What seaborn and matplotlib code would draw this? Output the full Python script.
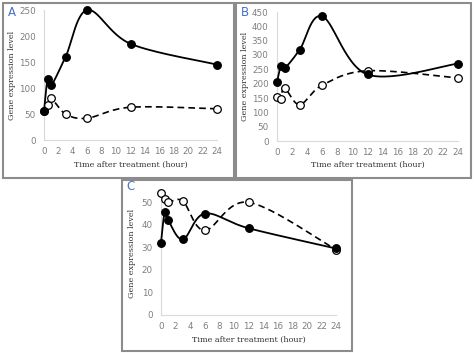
import numpy as np
import pandas as pd
import matplotlib
matplotlib.use("Agg")
import matplotlib.pyplot as plt
from matplotlib.patches import Rectangle
import seaborn as sns

# time points (hours after treatment)
hours = [0, 0.5, 1, 3, 6, 12, 24]

# panel A
a_filled = [55, 117, 105, 160, 250, 185, 145]
a_open = [55, 68, 80, 50, 42, 63, 60]
# panel B
b_filled = [205, 260, 253, 318, 435, 232, 270]
b_open = [152, 147, 185, 127, 195, 245, 220]
# panel C
c_filled = [32, 45.5, 42, 33.5, 45, 38.5, 29.5]
c_open = [54, 51.5, 50, 50.5, 37.5, 50, 29]


def smooth(x, y, xr, yr, n=30):
    # Excel-like smoothed line (cardinal spline in normalised coords)
    px = np.asarray(x, float) / xr
    py = np.asarray(y, float) / yr
    pts = np.column_stack([px, py])
    out = [pts[0]]
    for i in range(len(pts) - 1):
        p0 = pts[i - 1] if i > 0 else pts[i]
        p1, p2 = pts[i], pts[i + 1]
        p3 = pts[i + 2] if i + 2 < len(pts) else pts[i + 1]
        c1 = p1 + (p2 - p0) / 6
        c2 = p2 - (p3 - p1) / 6
        t = np.linspace(0, 1, n)[1:, None]
        seg = ((1 - t) ** 3) * p1 + 3 * ((1 - t) ** 2) * t * c1 + 3 * (1 - t) * t ** 2 * c2 + t ** 3 * p2
        out.extend(seg)
    out = np.array(out)
    return out[:, 0] * xr, out[:, 1] * yr


sns.set_style("white")
plt.rcParams["font.family"] = ["DejaVu Sans"]

fig = plt.figure(figsize=(4.74, 3.53), dpi=100)

# panel frames (pixels: left, top, right, bottom)
for l, t, r, b in [(3, 3, 234, 178), (236, 3, 471, 178), (122, 180, 352, 351)]:
    fig.patches.append(Rectangle((l / 474, 1 - b / 353), (r - l) / 474, (b - t) / 353,
                                 transform=fig.transFigure, fill=False,
                                 edgecolor="#8c8c8c", linewidth=1.5))

panels = [
    ("A", a_filled, a_open, 250, 50, [44, 10, 217, 140], (8, 12), (12, 165)),
    ("B", b_filled, b_open, 450, 50, [277, 12, 458, 141], (241, 12), (245, 165)),
    ("C", c_filled, c_open, 55, 10, [161, 191, 336, 315], (126, 187), (132, 340)),
]

for letter, filled, opened, ymax, ystep, (l, t, r, b), (lx, ly), (yl_x, xl_y) in panels:
    ax = fig.add_axes([l / 474, 1 - b / 353, (r - l) / 474, (b - t) / 353])
    ax.set_xlim(0, 24)
    ax.set_ylim(0, ymax)
    xs, ys = smooth(hours, opened, 24, ymax)
    ax.plot(xs, ys, color="black", lw=1.2, ls=(0, (4, 2.5)), clip_on=False, zorder=2)
    xs, ys = smooth(hours, filled, 24, ymax)
    ax.plot(xs, ys, color="black", lw=1.3, clip_on=False, zorder=3)
    df = pd.DataFrame({"hour": hours * 2, "value": opened + filled,
                       "series": ["open"] * 7 + ["filled"] * 7})
    sns.scatterplot(data=df[df.series == "open"], x="hour", y="value", ax=ax,
                    color="white", edgecolor="black", linewidth=0.9, s=30,
                    clip_on=False, zorder=4, legend=False)
    sns.scatterplot(data=df[df.series == "filled"], x="hour", y="value", ax=ax,
                    color="black", edgecolor="black", linewidth=0.9, s=30,
                    clip_on=False, zorder=5, legend=False)
    ax.set_xticks(range(0, 25, 2))
    ax.set_yticks(np.arange(0, ymax + 1, ystep))
    ax.tick_params(length=0, labelsize=6.3, labelcolor="#7f7f7f")
    ax.tick_params(axis="y", pad=6)
    ax.tick_params(axis="x", pad=5)
    for s in ["top", "right"]:
        ax.spines[s].set_visible(False)
    for s in ["left", "bottom"]:
        ax.spines[s].set_color("#d9d9d9")
        ax.spines[s].set_linewidth(0.8)
    ax.set_xlabel("Time after treatment (hour)", family="serif", fontsize=5.8,
                  color="#333333")
    ax.set_ylabel("Gene expression level", family="serif", fontsize=5.8,
                  color="#333333")
    ax.yaxis.set_label_coords((yl_x - l) / (r - l), 0.5)
    ax.xaxis.set_label_coords(0.5, (b - xl_y) / (b - t))
    ax.xaxis.label.set_va("center")
    ax.yaxis.label.set_va("center")
    fig.text(lx / 474, 1 - ly / 353, letter, fontsize=8.5, color="#4472c4",
             ha="left", va="center")

fig.savefig("out.png", dpi=100)
